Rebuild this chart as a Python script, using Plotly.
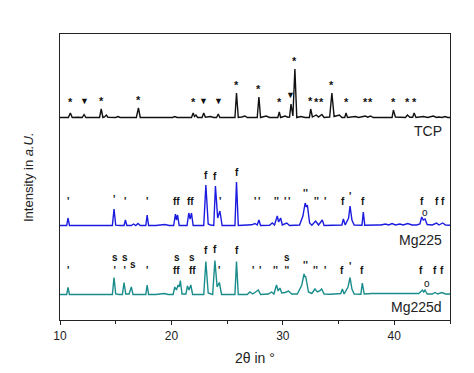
import plotly.graph_objects as go

# ---------------- data (2theta in degrees, intensity in arbitrary units) ----------------
tcp_profile = [(10.0,0.5),(10.75,0.5),(10.93,5),(11.1,0.5),(11.6,0.8),(12.0,0.5),(12.16,3.5),(12.32,0.5),
    (13.2,0.5),(13.55,0.5),(13.7,9),(13.85,0.5),(14.0,1),(14.16,3),(14.3,0.8),(15.0,0.5),(15.2,1.5),(15.4,0.5),
    (16.85,0.5),(17.04,10),(17.2,0.5),(18.3,0.5),(18.8,1),(19.3,0.5),(20.1,0.5),(20.3,1.5),(20.5,0.5),
    (21.8,0.5),(21.95,5),(22.07,1.5),(22.2,3),(22.35,0.5),(22.75,0.5),(22.9,5),(23.05,0.8),(23.5,1.5),(23.8,0.5),
    (24.05,0.5),(24.2,4),(24.35,0.5),(25.0,0.8),(25.7,0.5),(25.84,25),(26.0,0.5),(26.3,1),(26.6,2),(26.8,0.5),
    (27.7,0.5),(27.85,21),(28.0,0.5),(28.5,2),(28.8,0.5),(29.55,0.5),(29.68,6),(29.8,0.5),(30.2,2),(30.45,0.8),
    (30.6,1),(30.73,14),(30.9,2),(31.08,49),(31.25,0.5),(31.6,1.5),(32.0,0.5),(32.38,0.5),(32.5,9),(32.65,1),
    (33.0,3),(33.2,1),(33.5,3.5),(33.7,0.5),(34.2,1),(34.4,25),(34.6,1.5),(35.07,3),(35.3,0.5),(35.55,0.5),
    (35.67,5),(35.8,0.5),(36.5,1.5),(36.8,0.5),(37.4,2),(37.6,0.8),(37.88,2),(38.1,0.5),(38.9,1),(39.2,0.5),
    (39.8,0.5),(39.92,8),(40.1,1),(40.5,0.8),(41.0,0.5),(41.18,3),(41.4,0.8),(41.65,0.8),(41.78,5),(41.95,0.5),
    (42.6,1.5),(43.0,0.5),(43.5,2),(43.8,0.5),(44.0,1),(44.3,0.5),(44.55,1.5),(44.8,0.5),(45.0,0.5)]

mg225_profile = [(10.0,0.5),(10.6,0.5),(10.72,8),(10.85,0.5),(12.5,0.5),(13.5,0.8),(14.7,0.5),(14.85,17),
    (15.0,0.8),(15.4,0.5),(15.75,0.5),(15.87,6),(16.0,0.5),(16.4,0.5),(16.6,2),(16.8,0.5),(17.0,2.5),(17.2,0.5),
    (17.7,0.5),(17.82,11),(17.95,0.5),(18.6,0.5),(19.4,1.5),(19.8,0.5),(20.2,0.5),(20.36,12),(20.45,6),(20.55,11),
    (20.7,0.5),(21.4,0.5),(21.56,13),(21.68,7),(21.8,13),(21.95,0.5),(22.9,0.5),(23.09,41),(23.3,2),(23.5,1),
    (23.8,0.5),(23.95,40),(24.15,8),(24.35,15),(24.55,0.5),(25.7,0.5),(25.84,44),(26.0,0.5),(27.0,0.5),(27.2,1.2),
    (27.5,2.5),(27.7,1),(27.85,6),(28.0,0.5),(28.8,0.8),(29.05,3),(29.25,1),(29.5,10),(29.62,4),(29.8,8),(29.95,1),
    (30.35,3),(30.6,0.5),(31.0,0.8),(31.5,1),(31.8,10),(32.0,23),(32.1,19),(32.2,21),(32.4,3),(32.6,0.8),
    (32.94,5),(33.2,1),(33.54,6),(33.7,0.5),(34.5,0.8),(35.0,1),(35.3,1),(35.43,7),(35.6,1),(35.9,8),(36.03,20),
    (36.2,6),(36.4,1),(37.1,0.8),(37.22,14),(37.35,0.8),(37.8,1),(38.2,1.5),(38.5,1),(38.8,1),(39.2,2),(39.5,1),
    (39.8,2.5),(40.1,1),(40.5,2),(40.8,1),(41.2,2.5),(41.6,1),(42.0,1),(42.3,2),(42.46,9),(42.6,6),(42.76,7),
    (42.95,1.5),(43.4,1),(43.8,3),(44.0,1),(44.35,3),(44.6,1),(45.0,0.8)]

mg225d_profile = [(10.0,0.5),(10.6,0.5),(10.72,7.5),(10.85,0.5),(13.5,0.5),(14.7,0.5),(14.85,17.5),(15.0,1),
    (15.3,0.5),(15.6,0.5),(15.75,12.5),(15.9,1),(16.2,1),(16.4,8),(16.55,0.5),(17.0,0.5),(17.3,0.8),(17.7,0.5),
    (17.82,10),(17.95,0.5),(18.6,0.5),(19.35,1.5),(19.7,0.5),(20.15,0.5),(20.3,8),(20.45,5),(20.6,10),(20.7,8),
    (20.8,14.5),(20.95,1),(21.3,1),(21.44,9),(21.58,5),(21.74,10),(21.9,0.5),(22.9,0.5),(23.09,33.5),(23.3,2),
    (23.7,0.5),(23.9,34.5),(24.1,8),(24.3,12.5),(24.5,0.5),(25.7,0.5),(25.84,33.5),(26.0,0.5),(26.8,0.5),
    (27.04,3),(27.3,1),(27.8,5),(28.0,0.5),(28.7,1),(28.99,3),(29.2,1),(29.43,10),(29.58,4),(29.74,7),(29.9,2),
    (30.2,2.5),(30.5,4),(30.8,1),(31.3,1),(31.7,10),(31.9,21),(31.97,18),(32.04,19),(32.3,3),(32.6,1.5),
    (32.88,6),(33.1,3),(33.3,4),(33.48,6),(33.7,1),(34.3,0.8),(35.2,1.5),(35.34,6),(35.5,1),(35.85,8),
    (36.03,17.5),(36.2,6),(36.4,1),(37.0,0.8),(37.13,12),(37.3,1),(38.0,1.5),(38.5,1.5),(39.0,1),(39.5,1.5),
    (40.0,1),(40.5,1.5),(41.0,1),(41.5,1),(42.2,1.5),(42.52,5),(42.64,3),(42.76,5),(42.95,1),(43.4,1),
    (43.66,2.5),(43.9,1),(44.26,2.5),(44.6,1),(45.0,1)]

# phase markers (2theta, symbol[, alignment of stacked labels])
tcp_marks = [(10.93,"*"),(12.16,"▼"),(13.7,"*"),(17.04,"*"),(21.95,"*"),(22.9,"▼"),(24.2,"▼"),(25.84,"*"),
    (27.85,"*"),(29.68,"*"),(30.73,"▼"),(31.08,"*"),(32.5,"*"),(33.0,"*"),(33.5,"*"),(34.4,"*"),(35.67,"*"),
    (37.4,"*"),(37.88,"*"),(39.92,"*"),(41.18,"*"),(41.78,"*")]
mg225_marks = [(10.72,"'"),(14.85,"'"),(15.87,"'"),(17.82,"'"),(20.45,"ff"),(21.68,"ff"),(23.09,"f"),
    (23.95,"f"),(24.35,"'"),(25.84,"f"),(27.5,"'"),(27.9,"'"),(29.4,"''"),(30.2,"'"),(30.55,"'"),(32.0,"''"),
    (33.0,"''"),(33.75,"'"),(35.43,"f"),(36.03,"'"),(37.22,"f"),(42.46,"f"),(42.76,"o"),(43.8,"f"),(44.35,"f")]
mg225d_marks = [(10.72,"'"),(14.95,"s<br>'"),(15.8,"s<br>'"),(16.56,"s"),(17.82,"'"),
    (20.9,"s<br>ff","right"),(21.5,"s<br>ff","left"),(23.09,"f"),(23.9,"f"),(24.3,"'"),(25.84,"f"),(27.34,"'"),
    (27.94,"'"),(29.3,"''"),(30.4,"s<br>''"),(32.0,"''"),(32.94,"''"),(33.78,"'"),(35.34,"f"),
    (36.0,"'"),(37.13,"f"),(42.4,"f"),(42.9,"o"),(43.66,"f"),(44.26,"f")]

sample_names = ["TCP", "Mg225", "Mg225d"]
x_ticks = [10, 20, 30, 40]

# ---------------- styling / layout ----------------
offsets = {"TCP": 202, "Mg225": 94, "Mg225d": 25}
colors = {"TCP": "#111111", "Mg225": "#1c1ce0", "Mg225d": "#1b8c8c"}
label_rule = {"TCP": (8, 9), "Mg225": (15, 10), "Mg225d": (13.5, 11)}
profiles = {"TCP": tcp_profile, "Mg225": mg225_profile, "Mg225d": mg225d_profile}
marks = {"TCP": tcp_marks, "Mg225": mg225_marks, "Mg225d": mg225d_marks}
name_y = {"TCP": 189, "Mg225": 80, "Mg225d": 13}

FONT = "Liberation Sans, Arial, sans-serif"
fig = go.Figure()
annotations = []

def near_height(profile, x, win):
    vals = [v for (px, v) in profile if abs(px - x) <= win]
    return max(vals) if vals else 0.0

for name in sample_names:
    prof = profiles[name]
    off = offsets[name]
    fig.add_trace(go.Scatter(
        x=[p[0] for p in prof], y=[p[1] + off for p in prof],
        mode="lines", line=dict(color=colors[name], width=1.4), showlegend=False, hoverinfo="skip"))
    floor, gap = label_rule[name]
    for m in marks[name]:
        mx, txt = m[0], m[1]
        align = m[2] if len(m) > 2 else "center"
        stacked = "<br>" in txt
        if txt == "o":
            lvl = near_height(prof, mx, 0.15) + 7
        elif stacked:
            lvl = max(near_height(prof, mx, 0.05), floor) + gap + 6.5
        else:
            lvl = max(near_height(prof, mx, 0.1), floor) + gap
            if txt == "s":
                lvl += 6.5
        if txt == "▼":
            size, ysh = 9, 0
        elif txt == "*":
            size, ysh = 11, -1
        else:
            size, ysh = 10, 0
        shown = txt if txt in ("▼", "o") else "<b>" + txt + "</b>"
        annotations.append(dict(x=mx, y=off + lvl, xref="x", yref="y", text=shown, showarrow=False,
                                font=dict(family=FONT, size=size, color="#111111"), borderpad=0,
                                align=align, xanchor=align, yanchor="middle", yshift=ysh))
    annotations.append(dict(x=44.42, y=name_y[name], xref="x", yref="y", text=name, showarrow=False,
                            font=dict(family=FONT, size=14, color="#222222"), xanchor="right", yanchor="middle"))

annotations.append(dict(x=-0.082, y=0.5, xref="paper", yref="paper", text="Intensity in <i>a.U.</i>",
                        textangle=-90, showarrow=False, font=dict(family=FONT, size=13, color="#222222"),
                        xanchor="center", yanchor="middle"))
annotations.append(dict(x=0.5, y=-0.133, xref="paper", yref="paper", text="2θ in °", showarrow=False,
                        font=dict(family=FONT, size=14, color="#222222"), xanchor="center", yanchor="middle"))

fig.update_layout(
    width=474, height=373,
    margin=dict(l=52, r=32, t=26, b=61),
    paper_bgcolor="white", plot_bgcolor="white",
    annotations=annotations,
    xaxis=dict(range=[10, 45], tickvals=x_ticks, ticks="outside", ticklen=4, tickwidth=1, tickcolor="#222222",
               showline=True, linecolor="#222222", linewidth=1.2, mirror=True, showgrid=False, zeroline=False,
               tickfont=dict(family=FONT, size=12, color="#222222"),
               minor=dict(dtick=5, tick0=10, ticks="outside", ticklen=3, tickcolor="#222222")),
    yaxis=dict(range=[0, 286], showticklabels=False, ticks="", showline=True, linecolor="#222222",
               linewidth=1.2, mirror=True, showgrid=False, zeroline=False),
)

fig.write_html("out.html")
